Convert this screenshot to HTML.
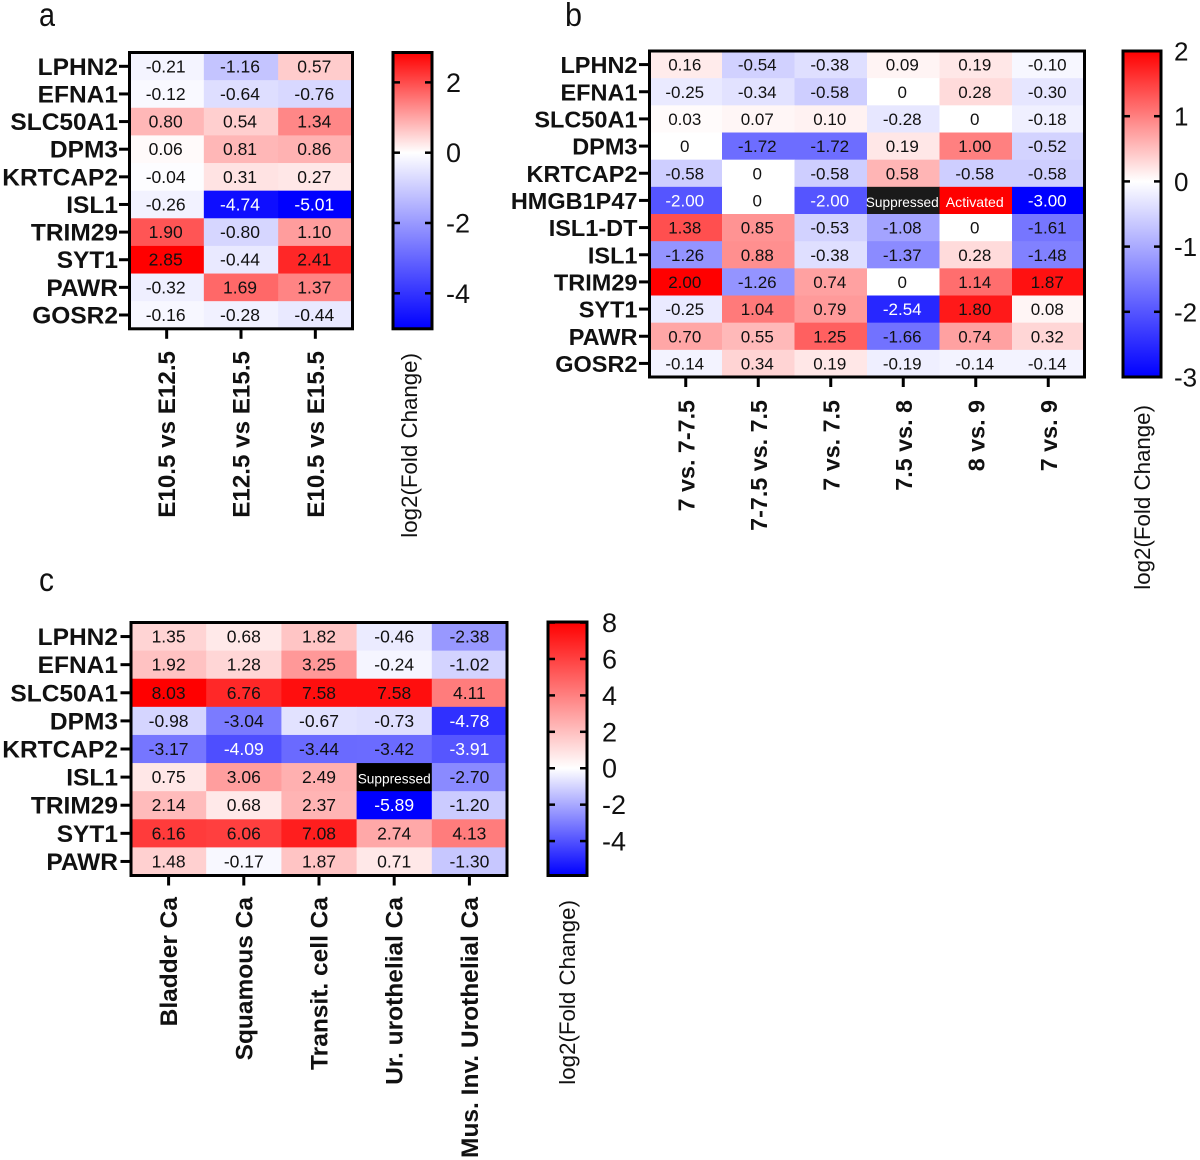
<!DOCTYPE html>
<html lang="en">
<head>
<meta charset="utf-8">
<title>log2 fold change heatmaps</title>
<style>
html,body{margin:0;padding:0;background:#fff;width:1200px;height:1160px;overflow:hidden}
svg{display:block;font-family:"Liberation Sans",sans-serif;filter:blur(0.35px)}
</style>
</head>
<body>
<svg id="figure" xmlns="http://www.w3.org/2000/svg" width="1200" height="1160" viewBox="0 0 1200 1160">
<defs id="gradients"></defs>
<rect x="0" y="0" width="1200" height="1160" fill="#fff"/>
<text x="39" y="26" font-size="33" textLength="16" lengthAdjust="spacingAndGlyphs" fill="#111">a</text>
<text x="565" y="26" font-size="33" textLength="17" lengthAdjust="spacingAndGlyphs" fill="#111">b</text>
<text x="39" y="591" font-size="33" textLength="15" lengthAdjust="spacingAndGlyphs" fill="#111">c</text>
</svg>
<script>
var aGenes = ['LPHN2','EFNA1','SLC50A1','DPM3','KRTCAP2','ISL1','TRIM29','SYT1','PAWR','GOSR2'];
var aConditions = ['E10.5 vs E12.5','E12.5 vs E15.5','E10.5 vs E15.5'];
var aValues = [
  [-0.21,-1.16,0.57],
  [-0.12,-0.64,-0.76],
  [0.80,0.54,1.34],
  [0.06,0.81,0.86],
  [-0.04,0.31,0.27],
  [-0.26,-4.74,-5.01],
  [1.90,-0.80,1.10],
  [2.85,-0.44,2.41],
  [-0.32,1.69,1.37],
  [-0.16,-0.28,-0.44]
];
var aColorDomain = [-5.01,2.85];
var aColorTicks = [2,0,-2,-4];

var bGenes = ['LPHN2','EFNA1','SLC50A1','DPM3','KRTCAP2','HMGB1P47','ISL1-DT','ISL1','TRIM29','SYT1','PAWR','GOSR2'];
var bConditions = ['7 vs. 7-7.5','7-7.5 vs. 7.5','7 vs. 7.5','7.5 vs. 8','8 vs. 9','7 vs. 9'];
var bValues = [
  [0.16,-0.54,-0.38,0.09,0.19,-0.10],
  [-0.25,-0.34,-0.58,0,0.28,-0.30],
  [0.03,0.07,0.10,-0.28,0,-0.18],
  [0,-1.72,-1.72,0.19,1.00,-0.52],
  [-0.58,0,-0.58,0.58,-0.58,-0.58],
  [-2.00,0,-2.00,'Suppressed','Activated',-3.00],
  [1.38,0.85,-0.53,-1.08,0,-1.61],
  [-1.26,0.88,-0.38,-1.37,0.28,-1.48],
  [2.00,-1.26,0.74,0,1.14,1.87],
  [-0.25,1.04,0.79,-2.54,1.80,0.08],
  [0.70,0.55,1.25,-1.66,0.74,0.32],
  [-0.14,0.34,0.19,-0.19,-0.14,-0.14]
];
var bColorDomain = [-3,2];
var bColorTicks = [2,1,0,-1,-2,-3];

var cGenes = ['LPHN2','EFNA1','SLC50A1','DPM3','KRTCAP2','ISL1','TRIM29','SYT1','PAWR'];
var cConditions = ['Bladder Ca','Squamous Ca','Transit. cell Ca','Ur. urothelial Ca','Mus. Inv. Urothelial Ca'];
var cValues = [
  [1.35,0.68,1.82,-0.46,-2.38],
  [1.92,1.28,3.25,-0.24,-1.02],
  [8.03,6.76,7.58,7.58,4.11],
  [-0.98,-3.04,-0.67,-0.73,-4.78],
  [-3.17,-4.09,-3.44,-3.42,-3.91],
  [0.75,3.06,2.49,'Suppressed',-2.70],
  [2.14,0.68,2.37,-5.89,-1.20],
  [6.16,6.06,7.08,2.74,4.13],
  [1.48,-0.17,1.87,0.71,-1.30]
];
var cColorDomain = [-5.89,8.03];
var cColorTicks = [8,6,4,2,0,-2,-4];

var SVGNS = 'http://www.w3.org/2000/svg';
var figure = document.getElementById('figure');
var gradients = document.getElementById('gradients');

function shape(tag, attrs, parent) {
  var el = document.createElementNS(SVGNS, tag);
  for (var k in attrs) { el.setAttribute(k, attrs[k]); }
  parent.appendChild(el);
  return el;
}

function colorFor(v, domain) {
  var t, c;
  if (v >= 0) {
    t = Math.min(1, v / domain[1]);
    c = Math.round(255 * (1 - t));
    return 'rgb(255,' + c + ',' + c + ')';
  }
  t = Math.min(1, v / domain[0]);
  c = Math.round(255 * (1 - t));
  return 'rgb(' + c + ',' + c + ',255)';
}

function formatValue(v) {
  return v === 0 ? '0' : v.toFixed(2);
}

function drawPanel(id, genes, conditions, values, domain, colorTicks, L) {
  var g = shape('g', {}, figure);
  
  

  var colW = (L.x1 - L.x0) / conditions.length;
  var rowH = (L.y1 - L.y0) / genes.length;
  function xBand(i) { return L.x0 + i * colW; }
  function yBand(i) { return L.y0 + i * rowH; }

  values.forEach(function (row, r) {
    row.forEach(function (v, c) {
      var isWord = typeof v === 'string';
      var fill = isWord ? (v === 'Activated' ? '#ff0000' : L.suppressedFill) : colorFor(v, domain);
      var cell = shape('rect', {
        x: xBand(c), y: yBand(r), width: colW + 0.4, height: rowH + 0.4, fill: fill
      }, g);
      
      
      var dark = !isWord && v < 0 && v / domain[0] >= 0.6;
      var attrs = {
        x: xBand(c) + colW / 2 + L.valueShift,
        y: yBand(r) + rowH / 2 + (isWord ? 6.5 : 6),
        'text-anchor': 'middle',
        'font-size': isWord ? 14 : L.valueSize,
        fill: (dark || isWord) ? '#fff' : '#111'
      };
      if (isWord) {
        attrs.textLength = v === 'Activated' ? 58 : 73;
        attrs.lengthAdjust = 'spacingAndGlyphs';
      }
      var label = shape('text', attrs, g);
      label.textContent = isWord ? v : formatValue(v);
      
      
    });
  });

  var frame = shape('rect', {
    x: L.x0, y: L.y0, width: L.x1 - L.x0, height: L.y1 - L.y0,
    fill: 'none', stroke: '#000', 'stroke-width': 3
  }, g);
  
  

  genes.forEach(function (name, r) {
    var cy = yBand(r) + rowH / 2;
    var tick = shape('line', {
      x1: L.x0 - 10.5, x2: L.x0, y1: cy, y2: cy, stroke: '#000', 'stroke-width': 3
    }, g);
    
    
    var label = shape('text', {
      x: L.x0 - L.labelGap, y: cy + 8.5, 'text-anchor': 'end',
      'font-size': L.labelSize, 'font-weight': 'bold', fill: '#111'
    }, g);
    label.textContent = name;
    
    
  });

  conditions.forEach(function (name, c) {
    var cx = xBand(c) + colW / 2;
    var tick = shape('line', {
      x1: cx, x2: cx, y1: L.y1, y2: L.y1 + 10, stroke: '#000', 'stroke-width': 3
    }, g);
    
    
    var bx = cx + 8.5;
    var label = shape('text', {
      transform: 'translate(' + bx + ',' + L.xLabelTop + ') rotate(-90)',
      x: 0, y: 0, 'text-anchor': 'end',
      'font-size': L.xLabelSize, 'font-weight': 'bold', fill: '#111'
    }, g);
    label.textContent = name;
    
    
  });

  var span = domain[1] - domain[0];
  function yScale(v) { return L.barY0 + (domain[1] - v) / span * (L.barY1 - L.barY0); }

  var grad = shape('linearGradient', { id: 'grad-' + id, x1: 0, y1: 0, x2: 0, y2: 1 }, gradients);
  shape('stop', { offset: '0', 'stop-color': '#ff0000' }, grad);
  shape('stop', { offset: String(domain[1] / span), 'stop-color': '#ffffff' }, grad);
  shape('stop', { offset: '1', 'stop-color': '#0000ff' }, grad);

  var bar = shape('rect', {
    x: L.barX0, y: L.barY0, width: L.barX1 - L.barX0, height: L.barY1 - L.barY0,
    fill: 'url(#grad-' + id + ')', stroke: '#000', 'stroke-width': 3
  }, g);
  
  

  colorTicks.forEach(function (v) {
    var y = yScale(v);
    var left = shape('line', {
      x1: L.barX0, x2: L.barX0 + 7, y1: y, y2: y, stroke: '#000', 'stroke-width': 2.5
    }, g);
    
    
    var right = shape('line', {
      x1: L.barX1 - 7, x2: L.barX1, y1: y, y2: y, stroke: '#000', 'stroke-width': 2.5
    }, g);
    
    
    var label = shape('text', {
      x: L.barX1 + L.tickGap, y: y + 9.5, 'font-size': L.tickSize, fill: '#111'
    }, g);
    label.textContent = String(v);
    
    
  });

  var title = shape('text', {
    transform: 'translate(' + L.titleX + ',' + L.titleTop + ') rotate(-90)',
    x: 0, y: 0, 'text-anchor': 'end', 'font-size': 22.3, fill: '#111'
  }, g);
  title.textContent = 'log2(Fold Change)';
  
  
}

drawPanel('a', aGenes, aConditions, aValues, aColorDomain, aColorTicks, {
  x0: 129.5, x1: 352.5, y0: 52.5, y1: 328.8, valueSize: 17.5, valueShift: -1, labelSize: 24.5, labelGap: 11.5, xLabelSize: 24.2, xLabelTop: 351,
  barX0: 393, barX1: 432, barY0: 52.5, barY1: 328.8, tickGap: 14, tickSize: 27, titleX: 417, titleTop: 353, suppressedFill: '#000'
});
drawPanel('b', bGenes, bConditions, bValues, bColorDomain, bColorTicks, {
  x0: 649.5, x1: 1084.5, y0: 51, y1: 377, valueSize: 17, valueShift: -1, labelSize: 23.5, labelGap: 12, xLabelSize: 23.3, xLabelTop: 400,
  barX0: 1123, barX1: 1161, barY0: 51, barY1: 377, tickGap: 13, tickSize: 26, titleX: 1150, titleTop: 405, suppressedFill: '#1a1a1a'
});
drawPanel('c', cGenes, cConditions, cValues, cColorDomain, cColorTicks, {
  x0: 131, x1: 507, y0: 622.5, y1: 875.5, valueSize: 17.5, valueShift: 0, labelSize: 24.5, labelGap: 13, xLabelSize: 24.5, xLabelTop: 897,
  barX0: 548, barX1: 587, barY0: 622, barY1: 875.5, tickGap: 15, tickSize: 27, titleX: 575, titleTop: 900, suppressedFill: '#000'
});
</script>
</body>
</html>
